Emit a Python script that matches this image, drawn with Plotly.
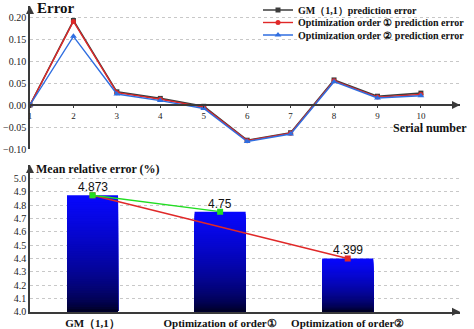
import plotly.graph_objects as go

# ---------------- data ----------------
serial = [1, 2, 3, 4, 5, 6, 7, 8, 9, 10]
gm_err = [0.000, 0.192, 0.030, 0.015, -0.003, -0.080, -0.063, 0.057, 0.020, 0.027]
opt1_err = [0.000, 0.190, 0.028, 0.013, -0.005, -0.081, -0.064, 0.055, 0.018, 0.024]
opt2_err = [0.000, 0.156, 0.025, 0.010, -0.008, -0.083, -0.066, 0.053, 0.016, 0.021]

bar_labels = ["GM\uff081,1\uff09", "Optimization of order\u2460", "Optimization of order\u2461"]
bar_values = [4.873, 4.75, 4.399]
bar_text = ["4.873", "4.75", "4.399"]

serif = "Liberation Serif"
W, H = 474, 329
L, R = 30, 14
PW = W - L - R


def px(x):
    return (x - L) / PW


def py(y):
    return 1 - y / H


fig = go.Figure()

# ---------------- top chart ----------------
fig.add_trace(go.Scatter(x=serial, y=gm_err, name="GM\uff081,1\uff09prediction error",
                         mode="lines+markers", line=dict(color="#3c3c3c", width=1.6),
                         marker=dict(symbol="square", size=5, color="#3c3c3c"),
                         legend="legend", xaxis="x", yaxis="y"))
fig.add_trace(go.Scatter(x=serial, y=opt1_err, name="Optimization order \u2460 prediction error",
                         mode="lines+markers", line=dict(color="#e02828", width=1.4),
                         marker=dict(symbol="circle", size=5, color="#e02828"),
                         legend="legend2", xaxis="x", yaxis="y"))
fig.add_trace(go.Scatter(x=serial, y=opt2_err, name="Optimization order \u2461 prediction error",
                         mode="lines+markers", line=dict(color="#2f6ee0", width=1.4),
                         marker=dict(symbol="triangle-up", size=6, color="#2f6ee0"),
                         legend="legend3", xaxis="x", yaxis="y"))

# ---------------- bottom chart (gradient bars) ----------------
base_val = 4.0
N = 50
xs = list(range(len(bar_values)))
for i in range(N - 1, -1, -1):
    t1 = (i + 1) / N
    t = (i + 0.5) / N
    b = min(1.0, t ** 0.55)
    col = "rgb(%d,%d,%d)" % (int(8 * b), int(8 * b), int(18 + 237 * b))
    fig.add_trace(go.Bar(
        x=xs,
        y=[(v - base_val) * t1 for v in bar_values],
        base=[base_val] * len(bar_values),
        marker=dict(color=col, line=dict(width=0)),
        width=0.4, showlegend=False, hoverinfo="skip",
        xaxis="x2", yaxis="y2"))

# connecting lines
fig.add_trace(go.Scatter(x=[xs[0], xs[2]], y=[bar_values[0], bar_values[2]], mode="lines+markers",
                         line=dict(color="#e02828", width=1.4),
                         marker=dict(symbol="square", size=6, color="#e02828"),
                         showlegend=False, xaxis="x2", yaxis="y2"))
fig.add_trace(go.Scatter(x=[xs[0], xs[1]], y=[bar_values[0], bar_values[1]], mode="lines+markers",
                         line=dict(color="#22dd22", width=1.4),
                         marker=dict(symbol="square", size=6, color="#22dd22"),
                         showlegend=False, xaxis="x2", yaxis="y2"))

# value labels
annotations = []
for xv, v, s in zip(xs, bar_values, bar_text):
    annotations.append(dict(x=xv, y=v, xref="x2", yref="y2", text=s, showarrow=False,
                            yanchor="bottom", yshift=-1,
                            font=dict(family="Liberation Sans", size=12, color="#111")))

axcol = "#3a3a3a"
for xr, yref in [("x domain", "y"), ("x2 domain", "y2 domain")]:
    annotations.append(dict(x=1, y=0, xref=xr, yref=yref, ax=-9, ay=0, text="",
                            showarrow=True, arrowhead=2, arrowsize=1, arrowwidth=1.6,
                            arrowcolor=axcol))
for xr, yr in [("x domain", "y domain"), ("x2 domain", "y2 domain")]:
    annotations.append(dict(x=0, y=1, xref=xr, yref=yr, ax=0, ay=9, text="",
                            showarrow=True, arrowhead=2, arrowsize=1, arrowwidth=1.6,
                            arrowcolor=axcol))

# titles
annotations.append(dict(x=px(35), y=py(8), xref="paper", yref="paper", text="<b>Error</b>",
                        showarrow=False, xanchor="left", yanchor="middle",
                        font=dict(family=serif, size=15, color="#111")))
annotations.append(dict(x=px(469), y=py(127.5), xref="paper", yref="paper",
                        text="<b>Serial number</b>",
                        showarrow=False, xanchor="right", yanchor="middle",
                        font=dict(family=serif, size=12, color="#111")))
annotations.append(dict(x=px(34), y=py(169), xref="paper", yref="paper",
                        text="<b>Mean relative error (%)</b>",
                        showarrow=False, xanchor="left", yanchor="middle",
                        font=dict(family=serif, size=12, color="#111")))

tickfont = dict(family=serif, size=10, color="#222")
grid = dict(showgrid=True, gridcolor="#c8c8c8", griddash="dot", gridwidth=1)

top_lo, top_hi = py(149), py(6)
bot_lo, bot_hi = py(311.7), py(165)


def leg(yc):
    return dict(x=px(258), y=py(yc), xanchor="left", yanchor="middle",
                font=dict(family=serif, size=10, color="#111", weight="bold"),
                bgcolor="rgba(0,0,0,0)", itemwidth=30, borderwidth=0)


fig.update_layout(
    width=W, height=H,
    margin=dict(l=L, r=R, t=0, b=0, autoexpand=False),
    paper_bgcolor="white", plot_bgcolor="white",
    showlegend=True,
    barmode="overlay",
    legend=leg(10), legend2=leg(22.5), legend3=leg(35),
    xaxis=dict(domain=[0, 1], range=[1, 10.9], anchor="free", position=py(105),
               tickvals=serial, ticktext=[str(s) for s in serial],
               showline=True, linecolor=axcol, linewidth=1.6,
               ticks="outside", ticklen=2, tickcolor=axcol,
               tickfont=dict(family=serif, size=9, color="#222"),
               tickangle=0, automargin=False,
               showgrid=False, zeroline=False),
    yaxis=dict(domain=[top_lo, top_hi], range=[-0.10, 0.225], anchor="x",
               tickvals=[-0.10, -0.05, 0.0, 0.05, 0.10, 0.15, 0.20],
               tickformat=".2f", tickfont=tickfont, automargin=False,
               showline=True, linecolor=axcol, linewidth=1.6, ticks="", zeroline=False,
               **grid),
    xaxis2=dict(domain=[0, 1], range=[-0.49, 2.88], anchor="y2",
                tickvals=xs, ticktext=["<b>%s</b>" % s for s in bar_labels],
                tickfont=dict(family=serif, size=11, color="#111"),
                tickangle=0, automargin=False,
                showline=True, linecolor=axcol, linewidth=1.6, ticks="",
                showgrid=False, zeroline=False),
    yaxis2=dict(domain=[bot_lo, bot_hi], range=[4.0, 5.1], anchor="x2",
                tickvals=[4.0 + 0.1 * k for k in range(11)], tickformat=".1f",
                tickfont=tickfont, automargin=False,
                showline=True, linecolor=axcol, linewidth=1.6, ticks="", zeroline=False,
                **grid),
    annotations=annotations,
)

fig.write_html("out.html")
